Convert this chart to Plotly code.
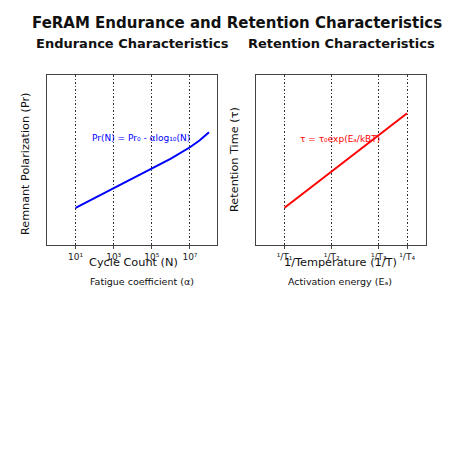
import plotly.graph_objects as go

# ---- data ----
cycle_exponents = [1, 2, 3, 4, 5, 6, 7, 7.5, 8]
cycle_counts = [10 ** e for e in cycle_exponents]
remnant_pol = [0.219, 0.276, 0.334, 0.390, 0.447, 0.508, 0.575, 0.615, 0.663]
endurance_ticks = [10, 1e3, 1e5, 1e7]
endurance_tick_labels = ["10¹", "10³", "10⁵", "10⁷"]

inv_temp = [0.0, 1.0, 2.0, 2.6]
retention_time = [0.219, 0.433, 0.647, 0.775]
retention_tick_labels = ["¹/T₁", "¹/T₂", "¹/T₃", "¹/T₄"]

FONT = "DejaVu Sans"
W = H = 474

def px(x):
    return x / W

def py(y):
    return 1 - y / H

fig = go.Figure()
fig.add_trace(go.Scatter(x=cycle_counts, y=remnant_pol, mode="lines",
                         line=dict(color="#0000ff", width=2), xaxis="x", yaxis="y",
                         showlegend=False, hoverinfo="skip"))
fig.add_trace(go.Scatter(x=inv_temp, y=retention_time, mode="lines",
                         line=dict(color="#ff0000", width=2), xaxis="x2", yaxis="y2",
                         showlegend=False, hoverinfo="skip"))

axis_common = dict(showline=True, linecolor="#444", linewidth=1, mirror=True,
                   zeroline=False, ticks="outside", ticklen=3, tickcolor="#444",
                   tickfont=dict(family=FONT, size=9, color="#222"),
                   showgrid=True, gridcolor="#333", griddash="1.5px,2px", gridwidth=1.3)

fig.update_layout(
    width=W, height=H, margin=dict(l=0, r=0, t=0, b=0),
    paper_bgcolor="white", plot_bgcolor="white",
    font=dict(family=FONT, color="#111"),
    xaxis=dict(domain=[px(47), px(217)], type="log", range=[-0.5, 8.42],
               tickvals=endurance_ticks, ticktext=endurance_tick_labels,
               anchor="y", **axis_common),
    yaxis=dict(domain=[py(245), py(75)], range=[0, 1], showticklabels=False,
               showgrid=False, ticks="", showline=True, linecolor="#444",
               linewidth=1, mirror=True, zeroline=False, anchor="x"),
    xaxis2=dict(domain=[px(256), px(426)], range=[-0.605, 3.0],
                tickvals=inv_temp, ticktext=retention_tick_labels,
                anchor="y2", **axis_common),
    yaxis2=dict(domain=[py(245), py(75)], range=[0, 1], showticklabels=False,
                showgrid=False, ticks="", showline=True, linecolor="#444",
                linewidth=1, mirror=True, zeroline=False, anchor="x2"),
)

ann = []
def paper_text(text, x, y, size, bold=False, angle=0, color="#111"):
    ann.append(dict(text=f"<b>{text}</b>" if bold else text, x=px(x), y=py(y),
                    xref="paper", yref="paper", showarrow=False, textangle=angle,
                    xanchor="center", yanchor="middle",
                    font=dict(family=FONT, size=size, color=color)))

paper_text("FeRAM Endurance and Retention Characteristics", 237, 23, 15, bold=True)
paper_text("Endurance Characteristics", 132, 43, 13, bold=True)
paper_text("Retention Characteristics", 341, 43, 13, bold=True)
paper_text("Remnant Polarization (Pr)", 25, 164, 11.2, angle=-90)
paper_text("Retention Time (τ)", 234, 160, 11.3, angle=-90)
paper_text("Cycle Count (N)", 133, 262, 11.3)
paper_text("1/Temperature (1/T)", 340, 262, 11.3)
paper_text("Fatigue coefficient (α)", 142, 281, 9.5)
paper_text("Activation energy (Eₐ)", 340, 281, 9.5)

ann.append(dict(text="Pr(N) = Pr₀ - αlog₁₀(N)", x=4.44, y=0.63, xref="x", yref="y",
                showarrow=False, font=dict(family=FONT, size=9, color="#0000ff")))
ann.append(dict(text="τ = τ₀exp(Eₐ/kBT)", x=1.18, y=0.624, xref="x2", yref="y2",
                showarrow=False, font=dict(family=FONT, size=9, color="#ff0000")))
fig.update_layout(annotations=ann)

fig.write_html("out.html")
